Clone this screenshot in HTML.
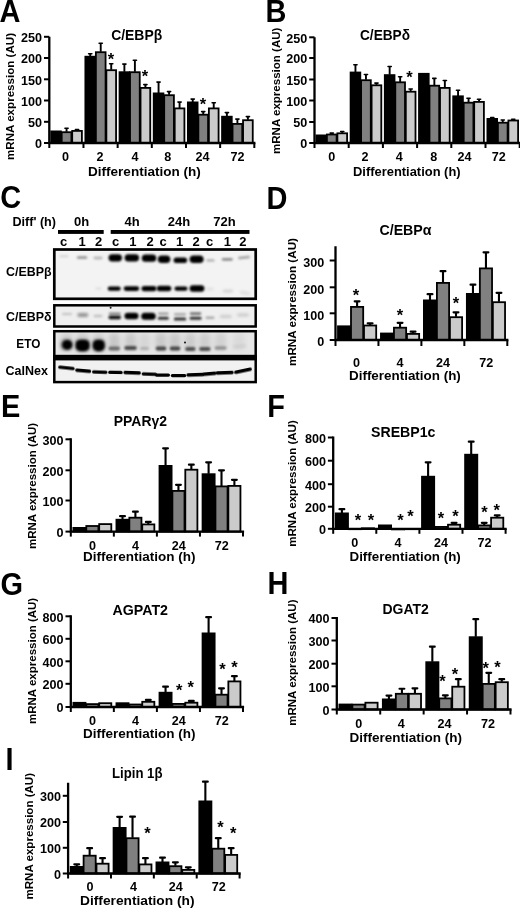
<!DOCTYPE html>
<html lang="en"><head><meta charset="utf-8"><title>Figure</title>
<style>html,body{margin:0;padding:0;background:#fff}svg{display:block}</style></head>
<body>
<svg width="520" height="909" viewBox="0 0 520 909" font-family="Liberation Sans, Arial, sans-serif" font-weight="bold" fill="#000">
<rect width="520" height="909" fill="#fff"/>
<rect x="51.20" y="131.40" width="9.70" height="11.60" fill="#000" stroke="#000" stroke-width="1.8"/>
<path d="M66.55 131.80V128.30" stroke="#000" stroke-width="1.9" fill="none"/>
<path d="M64.95 128.30H68.15" stroke="#000" stroke-width="1.6" stroke-linecap="round" fill="none"/>
<rect x="61.70" y="132.20" width="9.70" height="10.80" fill="#808080" stroke="#000" stroke-width="1.8"/>
<path d="M77.05 130.50V129.60" stroke="#000" stroke-width="1.9" fill="none"/>
<path d="M75.45 129.60H78.65" stroke="#000" stroke-width="1.6" stroke-linecap="round" fill="none"/>
<rect x="72.20" y="130.90" width="9.70" height="12.10" fill="#cbcbcb" stroke="#000" stroke-width="1.8"/>
<path d="M90.22 56.30V53.80" stroke="#000" stroke-width="1.9" fill="none"/>
<path d="M88.62 53.80H91.82" stroke="#000" stroke-width="1.6" stroke-linecap="round" fill="none"/>
<rect x="85.37" y="56.70" width="9.70" height="86.30" fill="#000" stroke="#000" stroke-width="1.8"/>
<path d="M100.72 51.80V43.30" stroke="#000" stroke-width="1.9" fill="none"/>
<path d="M99.12 43.30H102.32" stroke="#000" stroke-width="1.6" stroke-linecap="round" fill="none"/>
<rect x="95.87" y="52.20" width="9.70" height="90.80" fill="#808080" stroke="#000" stroke-width="1.8"/>
<path d="M111.22 69.80V63.80" stroke="#000" stroke-width="1.9" fill="none"/>
<path d="M109.62 63.80H112.82" stroke="#000" stroke-width="1.6" stroke-linecap="round" fill="none"/>
<rect x="106.37" y="70.20" width="9.70" height="72.80" fill="#cbcbcb" stroke="#000" stroke-width="1.8"/>
<path d="M124.39 71.80V64.10" stroke="#000" stroke-width="1.9" fill="none"/>
<path d="M122.79 64.10H125.99" stroke="#000" stroke-width="1.6" stroke-linecap="round" fill="none"/>
<rect x="119.54" y="72.20" width="9.70" height="70.80" fill="#000" stroke="#000" stroke-width="1.8"/>
<path d="M134.89 71.80V60.30" stroke="#000" stroke-width="1.9" fill="none"/>
<path d="M133.29 60.30H136.49" stroke="#000" stroke-width="1.6" stroke-linecap="round" fill="none"/>
<rect x="130.04" y="72.20" width="9.70" height="70.80" fill="#808080" stroke="#000" stroke-width="1.8"/>
<path d="M145.39 87.50V84.60" stroke="#000" stroke-width="1.9" fill="none"/>
<path d="M143.79 84.60H146.99" stroke="#000" stroke-width="1.6" stroke-linecap="round" fill="none"/>
<rect x="140.54" y="87.90" width="9.70" height="55.10" fill="#cbcbcb" stroke="#000" stroke-width="1.8"/>
<path d="M158.56 93.00V82.10" stroke="#000" stroke-width="1.9" fill="none"/>
<path d="M156.96 82.10H160.16" stroke="#000" stroke-width="1.6" stroke-linecap="round" fill="none"/>
<rect x="153.71" y="93.40" width="9.70" height="49.60" fill="#000" stroke="#000" stroke-width="1.8"/>
<path d="M169.06 94.80V91.60" stroke="#000" stroke-width="1.9" fill="none"/>
<path d="M167.46 91.60H170.66" stroke="#000" stroke-width="1.6" stroke-linecap="round" fill="none"/>
<rect x="164.21" y="95.20" width="9.70" height="47.80" fill="#808080" stroke="#000" stroke-width="1.8"/>
<path d="M179.56 108.00V102.10" stroke="#000" stroke-width="1.9" fill="none"/>
<path d="M177.96 102.10H181.16" stroke="#000" stroke-width="1.6" stroke-linecap="round" fill="none"/>
<rect x="174.71" y="108.40" width="9.70" height="34.60" fill="#cbcbcb" stroke="#000" stroke-width="1.8"/>
<path d="M192.73 102.00V99.10" stroke="#000" stroke-width="1.9" fill="none"/>
<path d="M191.13 99.10H194.33" stroke="#000" stroke-width="1.6" stroke-linecap="round" fill="none"/>
<rect x="187.88" y="102.40" width="9.70" height="40.60" fill="#000" stroke="#000" stroke-width="1.8"/>
<path d="M203.23 114.30V111.60" stroke="#000" stroke-width="1.9" fill="none"/>
<path d="M201.63 111.60H204.83" stroke="#000" stroke-width="1.6" stroke-linecap="round" fill="none"/>
<rect x="198.38" y="114.70" width="9.70" height="28.30" fill="#808080" stroke="#000" stroke-width="1.8"/>
<path d="M213.73 108.00V102.80" stroke="#000" stroke-width="1.9" fill="none"/>
<path d="M212.13 102.80H215.33" stroke="#000" stroke-width="1.6" stroke-linecap="round" fill="none"/>
<rect x="208.88" y="108.40" width="9.70" height="34.60" fill="#cbcbcb" stroke="#000" stroke-width="1.8"/>
<path d="M226.90 116.30V112.60" stroke="#000" stroke-width="1.9" fill="none"/>
<path d="M225.30 112.60H228.50" stroke="#000" stroke-width="1.6" stroke-linecap="round" fill="none"/>
<rect x="222.05" y="116.70" width="9.70" height="26.30" fill="#000" stroke="#000" stroke-width="1.8"/>
<path d="M237.40 123.50V119.10" stroke="#000" stroke-width="1.9" fill="none"/>
<path d="M235.80 119.10H239.00" stroke="#000" stroke-width="1.6" stroke-linecap="round" fill="none"/>
<rect x="232.55" y="123.90" width="9.70" height="19.10" fill="#808080" stroke="#000" stroke-width="1.8"/>
<path d="M247.90 119.80V116.60" stroke="#000" stroke-width="1.9" fill="none"/>
<path d="M246.30 116.60H249.50" stroke="#000" stroke-width="1.6" stroke-linecap="round" fill="none"/>
<rect x="243.05" y="120.20" width="9.70" height="22.80" fill="#cbcbcb" stroke="#000" stroke-width="1.8"/>
<path d="M49.30 36.80V144.10M48.20 143.00H255.42" stroke="#000" stroke-width="2.3" fill="none"/>
<path d="M44.00 36.80H49.30" stroke="#000" stroke-width="2"/>
<text x="42.10" y="42.20" font-size="12.6" text-anchor="end">250</text>
<path d="M44.00 58.00H49.30" stroke="#000" stroke-width="2"/>
<text x="42.10" y="63.40" font-size="12.6" text-anchor="end">200</text>
<path d="M44.00 79.30H49.30" stroke="#000" stroke-width="2"/>
<text x="42.10" y="84.70" font-size="12.6" text-anchor="end">150</text>
<path d="M44.00 100.50H49.30" stroke="#000" stroke-width="2"/>
<text x="42.10" y="105.90" font-size="12.6" text-anchor="end">100</text>
<path d="M44.00 121.80H49.30" stroke="#000" stroke-width="2"/>
<text x="42.10" y="127.20" font-size="12.6" text-anchor="end">50</text>
<path d="M44.00 143.00H49.30" stroke="#000" stroke-width="2"/>
<text x="42.10" y="148.40" font-size="12.6" text-anchor="end">0</text>
<path d="M49.30 143.00V148.00" stroke="#000" stroke-width="2"/>
<path d="M83.47 143.00V148.00" stroke="#000" stroke-width="2"/>
<path d="M117.64 143.00V148.00" stroke="#000" stroke-width="2"/>
<path d="M151.81 143.00V148.00" stroke="#000" stroke-width="2"/>
<path d="M185.98 143.00V148.00" stroke="#000" stroke-width="2"/>
<path d="M220.15 143.00V148.00" stroke="#000" stroke-width="2"/>
<path d="M254.32 143.00V148.00" stroke="#000" stroke-width="2"/>
<text x="65.50" y="160.60" font-size="12.6" text-anchor="middle">0</text>
<text x="100.00" y="160.60" font-size="12.6" text-anchor="middle">2</text>
<text x="135.00" y="160.60" font-size="12.6" text-anchor="middle">4</text>
<text x="167.70" y="160.60" font-size="12.6" text-anchor="middle">8</text>
<text x="202.60" y="160.60" font-size="12.6" text-anchor="middle">24</text>
<text x="237.50" y="160.60" font-size="12.6" text-anchor="middle">72</text>
<text x="88.00" y="175.60" font-size="13.4" text-anchor="start" textLength="112.80" lengthAdjust="spacingAndGlyphs">Differentiation (h)</text>
<text transform="translate(14.40 160.00) rotate(-90)" font-size="11.5" textLength="127.00" lengthAdjust="spacingAndGlyphs">mRNA expression (AU)</text>
<text x="111.20" y="39.60" font-size="13.8" text-anchor="start" textLength="51.00" lengthAdjust="spacingAndGlyphs">C/EBPβ</text>
<text transform="translate(-0.50 21.80) scale(0.92 1)" font-size="31.5">A</text>
<text x="111.00" y="64.70" font-size="16.5" text-anchor="middle">*</text>
<text x="145.00" y="81.70" font-size="16.5" text-anchor="middle">*</text>
<text x="203.00" y="109.70" font-size="16.5" text-anchor="middle">*</text>
<rect x="316.40" y="135.40" width="9.70" height="7.60" fill="#000" stroke="#000" stroke-width="1.8"/>
<path d="M331.75 134.10V133.10" stroke="#000" stroke-width="1.9" fill="none"/>
<path d="M330.15 133.10H333.35" stroke="#000" stroke-width="1.6" stroke-linecap="round" fill="none"/>
<rect x="326.90" y="134.50" width="9.70" height="8.50" fill="#808080" stroke="#000" stroke-width="1.8"/>
<path d="M342.25 132.90V131.50" stroke="#000" stroke-width="1.9" fill="none"/>
<path d="M340.65 131.50H343.85" stroke="#000" stroke-width="1.6" stroke-linecap="round" fill="none"/>
<rect x="337.40" y="133.30" width="9.70" height="9.70" fill="#cbcbcb" stroke="#000" stroke-width="1.8"/>
<path d="M355.45 72.10V64.80" stroke="#000" stroke-width="1.9" fill="none"/>
<path d="M353.85 64.80H357.05" stroke="#000" stroke-width="1.6" stroke-linecap="round" fill="none"/>
<rect x="350.60" y="72.50" width="9.70" height="70.50" fill="#000" stroke="#000" stroke-width="1.8"/>
<path d="M365.95 79.80V74.50" stroke="#000" stroke-width="1.9" fill="none"/>
<path d="M364.35 74.50H367.55" stroke="#000" stroke-width="1.6" stroke-linecap="round" fill="none"/>
<rect x="361.10" y="80.20" width="9.70" height="62.80" fill="#808080" stroke="#000" stroke-width="1.8"/>
<path d="M376.45 84.90V83.10" stroke="#000" stroke-width="1.9" fill="none"/>
<path d="M374.85 83.10H378.05" stroke="#000" stroke-width="1.6" stroke-linecap="round" fill="none"/>
<rect x="371.60" y="85.30" width="9.70" height="57.70" fill="#cbcbcb" stroke="#000" stroke-width="1.8"/>
<path d="M389.65 74.70V66.50" stroke="#000" stroke-width="1.9" fill="none"/>
<path d="M388.05 66.50H391.25" stroke="#000" stroke-width="1.6" stroke-linecap="round" fill="none"/>
<rect x="384.80" y="75.10" width="9.70" height="67.90" fill="#000" stroke="#000" stroke-width="1.8"/>
<path d="M400.15 81.90V76.70" stroke="#000" stroke-width="1.9" fill="none"/>
<path d="M398.55 76.70H401.75" stroke="#000" stroke-width="1.6" stroke-linecap="round" fill="none"/>
<rect x="395.30" y="82.30" width="9.70" height="60.70" fill="#808080" stroke="#000" stroke-width="1.8"/>
<path d="M410.65 91.30V89.00" stroke="#000" stroke-width="1.9" fill="none"/>
<path d="M409.05 89.00H412.25" stroke="#000" stroke-width="1.6" stroke-linecap="round" fill="none"/>
<rect x="405.80" y="91.70" width="9.70" height="51.30" fill="#cbcbcb" stroke="#000" stroke-width="1.8"/>
<rect x="419.00" y="73.80" width="9.70" height="69.20" fill="#000" stroke="#000" stroke-width="1.8"/>
<path d="M434.35 85.30V78.40" stroke="#000" stroke-width="1.9" fill="none"/>
<path d="M432.75 78.40H435.95" stroke="#000" stroke-width="1.6" stroke-linecap="round" fill="none"/>
<rect x="429.50" y="85.70" width="9.70" height="57.30" fill="#808080" stroke="#000" stroke-width="1.8"/>
<path d="M444.85 87.50V80.50" stroke="#000" stroke-width="1.9" fill="none"/>
<path d="M443.25 80.50H446.45" stroke="#000" stroke-width="1.6" stroke-linecap="round" fill="none"/>
<rect x="440.00" y="87.90" width="9.70" height="55.10" fill="#cbcbcb" stroke="#000" stroke-width="1.8"/>
<path d="M458.05 95.90V90.30" stroke="#000" stroke-width="1.9" fill="none"/>
<path d="M456.45 90.30H459.65" stroke="#000" stroke-width="1.6" stroke-linecap="round" fill="none"/>
<rect x="453.20" y="96.30" width="9.70" height="46.70" fill="#000" stroke="#000" stroke-width="1.8"/>
<path d="M468.55 102.30V98.30" stroke="#000" stroke-width="1.9" fill="none"/>
<path d="M466.95 98.30H470.15" stroke="#000" stroke-width="1.6" stroke-linecap="round" fill="none"/>
<rect x="463.70" y="102.70" width="9.70" height="40.30" fill="#808080" stroke="#000" stroke-width="1.8"/>
<path d="M479.05 101.50V99.20" stroke="#000" stroke-width="1.9" fill="none"/>
<path d="M477.45 99.20H480.65" stroke="#000" stroke-width="1.6" stroke-linecap="round" fill="none"/>
<rect x="474.20" y="101.90" width="9.70" height="41.10" fill="#cbcbcb" stroke="#000" stroke-width="1.8"/>
<path d="M492.25 118.50V117.50" stroke="#000" stroke-width="1.9" fill="none"/>
<path d="M490.65 117.50H493.85" stroke="#000" stroke-width="1.6" stroke-linecap="round" fill="none"/>
<rect x="487.40" y="118.90" width="9.70" height="24.10" fill="#000" stroke="#000" stroke-width="1.8"/>
<path d="M502.75 122.30V120.00" stroke="#000" stroke-width="1.9" fill="none"/>
<path d="M501.15 120.00H504.35" stroke="#000" stroke-width="1.6" stroke-linecap="round" fill="none"/>
<rect x="497.90" y="122.70" width="9.70" height="20.30" fill="#808080" stroke="#000" stroke-width="1.8"/>
<path d="M513.25 120.10V119.20" stroke="#000" stroke-width="1.9" fill="none"/>
<path d="M511.65 119.20H514.85" stroke="#000" stroke-width="1.6" stroke-linecap="round" fill="none"/>
<rect x="508.40" y="120.50" width="9.70" height="22.50" fill="#cbcbcb" stroke="#000" stroke-width="1.8"/>
<path d="M314.50 37.30V144.10M313.40 143.00H520.80" stroke="#000" stroke-width="2.3" fill="none"/>
<path d="M309.20 37.30H314.50" stroke="#000" stroke-width="2"/>
<text x="307.30" y="42.70" font-size="12.6" text-anchor="end">250</text>
<path d="M309.20 58.00H314.50" stroke="#000" stroke-width="2"/>
<text x="307.30" y="63.40" font-size="12.6" text-anchor="end">200</text>
<path d="M309.20 79.50H314.50" stroke="#000" stroke-width="2"/>
<text x="307.30" y="84.90" font-size="12.6" text-anchor="end">150</text>
<path d="M309.20 100.50H314.50" stroke="#000" stroke-width="2"/>
<text x="307.30" y="105.90" font-size="12.6" text-anchor="end">100</text>
<path d="M309.20 122.00H314.50" stroke="#000" stroke-width="2"/>
<text x="307.30" y="127.40" font-size="12.6" text-anchor="end">50</text>
<path d="M309.20 143.00H314.50" stroke="#000" stroke-width="2"/>
<text x="307.30" y="148.40" font-size="12.6" text-anchor="end">0</text>
<path d="M314.50 143.00V148.00" stroke="#000" stroke-width="2"/>
<path d="M348.70 143.00V148.00" stroke="#000" stroke-width="2"/>
<path d="M382.90 143.00V148.00" stroke="#000" stroke-width="2"/>
<path d="M417.10 143.00V148.00" stroke="#000" stroke-width="2"/>
<path d="M451.30 143.00V148.00" stroke="#000" stroke-width="2"/>
<path d="M485.50 143.00V148.00" stroke="#000" stroke-width="2"/>
<path d="M519.70 143.00V148.00" stroke="#000" stroke-width="2"/>
<text x="331.80" y="160.60" font-size="12.6" text-anchor="middle">0</text>
<text x="365.00" y="160.60" font-size="12.6" text-anchor="middle">2</text>
<text x="399.30" y="160.60" font-size="12.6" text-anchor="middle">4</text>
<text x="433.80" y="160.60" font-size="12.6" text-anchor="middle">8</text>
<text x="464.50" y="160.60" font-size="12.6" text-anchor="middle">24</text>
<text x="498.80" y="160.60" font-size="12.6" text-anchor="middle">72</text>
<text x="353.00" y="175.60" font-size="13.4" text-anchor="start" textLength="107.60" lengthAdjust="spacingAndGlyphs">Differentiation (h)</text>
<text transform="translate(280.40 154.00) rotate(-90)" font-size="11.5" textLength="126.40" lengthAdjust="spacingAndGlyphs">mRNA expression (AU)</text>
<text x="360.00" y="39.60" font-size="13.8" text-anchor="start" textLength="50.00" lengthAdjust="spacingAndGlyphs">C/EBPδ</text>
<text transform="translate(265.40 21.60) scale(0.92 1)" font-size="31.5">B</text>
<text x="409.50" y="82.70" font-size="16.5" text-anchor="middle">*</text>
<rect x="338.00" y="326.30" width="12.20" height="13.70" fill="#000" stroke="#000" stroke-width="1.8"/>
<path d="M357.10 306.50V301.35" stroke="#000" stroke-width="2.1" fill="none"/>
<path d="M354.70 301.35H359.50" stroke="#000" stroke-width="2.2" stroke-linecap="round" fill="none"/>
<rect x="351.00" y="306.90" width="12.20" height="33.10" fill="#808080" stroke="#000" stroke-width="1.8"/>
<path d="M370.10 325.10V323.35" stroke="#000" stroke-width="2.1" fill="none"/>
<path d="M367.70 323.35H372.50" stroke="#000" stroke-width="2.2" stroke-linecap="round" fill="none"/>
<rect x="364.00" y="325.50" width="12.20" height="14.50" fill="#cbcbcb" stroke="#000" stroke-width="1.8"/>
<rect x="380.95" y="333.50" width="12.20" height="6.50" fill="#000" stroke="#000" stroke-width="1.8"/>
<path d="M400.05 327.30V322.85" stroke="#000" stroke-width="2.1" fill="none"/>
<path d="M397.65 322.85H402.45" stroke="#000" stroke-width="2.2" stroke-linecap="round" fill="none"/>
<rect x="393.95" y="327.70" width="12.20" height="12.30" fill="#808080" stroke="#000" stroke-width="1.8"/>
<path d="M413.05 333.50V331.65" stroke="#000" stroke-width="2.1" fill="none"/>
<path d="M410.65 331.65H415.45" stroke="#000" stroke-width="2.2" stroke-linecap="round" fill="none"/>
<rect x="406.95" y="333.90" width="12.20" height="6.10" fill="#cbcbcb" stroke="#000" stroke-width="1.8"/>
<path d="M430.00 300.00V294.15" stroke="#000" stroke-width="2.1" fill="none"/>
<path d="M427.60 294.15H432.40" stroke="#000" stroke-width="2.2" stroke-linecap="round" fill="none"/>
<rect x="423.90" y="300.40" width="12.20" height="39.60" fill="#000" stroke="#000" stroke-width="1.8"/>
<path d="M443.00 282.50V271.15" stroke="#000" stroke-width="2.1" fill="none"/>
<path d="M440.60 271.15H445.40" stroke="#000" stroke-width="2.2" stroke-linecap="round" fill="none"/>
<rect x="436.90" y="282.90" width="12.20" height="57.10" fill="#808080" stroke="#000" stroke-width="1.8"/>
<path d="M456.00 316.80V312.35" stroke="#000" stroke-width="2.1" fill="none"/>
<path d="M453.60 312.35H458.40" stroke="#000" stroke-width="2.2" stroke-linecap="round" fill="none"/>
<rect x="449.90" y="317.20" width="12.20" height="22.80" fill="#cbcbcb" stroke="#000" stroke-width="1.8"/>
<path d="M472.95 293.50V284.65" stroke="#000" stroke-width="2.1" fill="none"/>
<path d="M470.55 284.65H475.35" stroke="#000" stroke-width="2.2" stroke-linecap="round" fill="none"/>
<rect x="466.85" y="293.90" width="12.20" height="46.10" fill="#000" stroke="#000" stroke-width="1.8"/>
<path d="M485.95 268.00V252.35" stroke="#000" stroke-width="2.1" fill="none"/>
<path d="M483.55 252.35H488.35" stroke="#000" stroke-width="2.2" stroke-linecap="round" fill="none"/>
<rect x="479.85" y="268.40" width="12.20" height="71.60" fill="#808080" stroke="#000" stroke-width="1.8"/>
<path d="M498.95 301.80V292.85" stroke="#000" stroke-width="2.1" fill="none"/>
<path d="M496.55 292.85H501.35" stroke="#000" stroke-width="2.2" stroke-linecap="round" fill="none"/>
<rect x="492.85" y="302.20" width="12.20" height="37.80" fill="#cbcbcb" stroke="#000" stroke-width="1.8"/>
<path d="M335.50 246.30V341.10M334.40 340.00H508.40" stroke="#000" stroke-width="2.3" fill="none"/>
<path d="M329.70 260.50H335.50" stroke="#000" stroke-width="2"/>
<text x="324.20" y="266.70" font-size="12.6" text-anchor="end">300</text>
<path d="M329.70 287.30H335.50" stroke="#000" stroke-width="2"/>
<text x="324.20" y="293.50" font-size="12.6" text-anchor="end">200</text>
<path d="M329.70 313.30H335.50" stroke="#000" stroke-width="2"/>
<text x="324.20" y="319.50" font-size="12.6" text-anchor="end">100</text>
<path d="M329.70 340.00H335.50" stroke="#000" stroke-width="2"/>
<text x="324.20" y="346.20" font-size="12.6" text-anchor="end">0</text>
<path d="M335.50 340.00V346.00" stroke="#000" stroke-width="2"/>
<path d="M378.45 340.00V346.00" stroke="#000" stroke-width="2"/>
<path d="M421.40 340.00V346.00" stroke="#000" stroke-width="2"/>
<path d="M464.35 340.00V346.00" stroke="#000" stroke-width="2"/>
<path d="M507.30 340.00V346.00" stroke="#000" stroke-width="2"/>
<text x="356.50" y="366.60" font-size="12.6" text-anchor="middle">0</text>
<text x="400.00" y="366.60" font-size="12.6" text-anchor="middle">4</text>
<text x="443.00" y="366.60" font-size="12.6" text-anchor="middle">24</text>
<text x="486.30" y="366.60" font-size="12.6" text-anchor="middle">72</text>
<text x="349.00" y="379.60" font-size="13.4" text-anchor="start" textLength="111.80" lengthAdjust="spacingAndGlyphs">Differentiation (h)</text>
<text transform="translate(295.50 366.00) rotate(-90)" font-size="11.5" textLength="128.00" lengthAdjust="spacingAndGlyphs">mRNA expression (AU)</text>
<text x="379.50" y="235.00" font-size="13.8" text-anchor="start" textLength="52.00" lengthAdjust="spacingAndGlyphs">C/EBPα</text>
<text transform="translate(266.50 208.80) scale(0.92 1)" font-size="31.5">D</text>
<text x="356.00" y="301.20" font-size="16.5" text-anchor="middle">*</text>
<text x="400.00" y="321.20" font-size="16.5" text-anchor="middle">*</text>
<text x="456.00" y="308.70" font-size="16.5" text-anchor="middle">*</text>
<rect x="73.40" y="527.90" width="12.10" height="3.70" fill="#000" stroke="#000" stroke-width="1.8"/>
<rect x="86.30" y="526.00" width="12.10" height="5.60" fill="#808080" stroke="#000" stroke-width="1.8"/>
<rect x="99.20" y="524.10" width="12.10" height="7.50" fill="#cbcbcb" stroke="#000" stroke-width="1.8"/>
<path d="M122.50 519.30V516.15" stroke="#000" stroke-width="2.1" fill="none"/>
<path d="M120.10 516.15H124.90" stroke="#000" stroke-width="2.2" stroke-linecap="round" fill="none"/>
<rect x="116.45" y="519.70" width="12.10" height="11.90" fill="#000" stroke="#000" stroke-width="1.8"/>
<path d="M135.40 517.30V511.65" stroke="#000" stroke-width="2.1" fill="none"/>
<path d="M133.00 511.65H137.80" stroke="#000" stroke-width="2.2" stroke-linecap="round" fill="none"/>
<rect x="129.35" y="517.70" width="12.10" height="13.90" fill="#808080" stroke="#000" stroke-width="1.8"/>
<path d="M148.30 524.00V521.95" stroke="#000" stroke-width="2.1" fill="none"/>
<path d="M145.90 521.95H150.70" stroke="#000" stroke-width="2.2" stroke-linecap="round" fill="none"/>
<rect x="142.25" y="524.40" width="12.10" height="7.20" fill="#cbcbcb" stroke="#000" stroke-width="1.8"/>
<path d="M165.55 465.50V448.35" stroke="#000" stroke-width="2.1" fill="none"/>
<path d="M163.15 448.35H167.95" stroke="#000" stroke-width="2.2" stroke-linecap="round" fill="none"/>
<rect x="159.50" y="465.90" width="12.10" height="65.70" fill="#000" stroke="#000" stroke-width="1.8"/>
<path d="M178.45 490.50V484.85" stroke="#000" stroke-width="2.1" fill="none"/>
<path d="M176.05 484.85H180.85" stroke="#000" stroke-width="2.2" stroke-linecap="round" fill="none"/>
<rect x="172.40" y="490.90" width="12.10" height="40.70" fill="#808080" stroke="#000" stroke-width="1.8"/>
<path d="M191.35 469.30V464.65" stroke="#000" stroke-width="2.1" fill="none"/>
<path d="M188.95 464.65H193.75" stroke="#000" stroke-width="2.2" stroke-linecap="round" fill="none"/>
<rect x="185.30" y="469.70" width="12.10" height="61.90" fill="#cbcbcb" stroke="#000" stroke-width="1.8"/>
<path d="M208.60 473.80V462.35" stroke="#000" stroke-width="2.1" fill="none"/>
<path d="M206.20 462.35H211.00" stroke="#000" stroke-width="2.2" stroke-linecap="round" fill="none"/>
<rect x="202.55" y="474.20" width="12.10" height="57.40" fill="#000" stroke="#000" stroke-width="1.8"/>
<path d="M221.50 486.00V470.35" stroke="#000" stroke-width="2.1" fill="none"/>
<path d="M219.10 470.35H223.90" stroke="#000" stroke-width="2.2" stroke-linecap="round" fill="none"/>
<rect x="215.45" y="486.40" width="12.10" height="45.20" fill="#808080" stroke="#000" stroke-width="1.8"/>
<path d="M234.40 485.50V479.85" stroke="#000" stroke-width="2.1" fill="none"/>
<path d="M232.00 479.85H236.80" stroke="#000" stroke-width="2.2" stroke-linecap="round" fill="none"/>
<rect x="228.35" y="485.90" width="12.10" height="45.70" fill="#cbcbcb" stroke="#000" stroke-width="1.8"/>
<path d="M70.80 438.30V532.70M69.70 531.60H244.10" stroke="#000" stroke-width="2.3" fill="none"/>
<path d="M65.50 439.30H70.80" stroke="#000" stroke-width="2"/>
<text x="63.60" y="444.70" font-size="12.6" text-anchor="end">300</text>
<path d="M65.50 470.30H70.80" stroke="#000" stroke-width="2"/>
<text x="63.60" y="475.70" font-size="12.6" text-anchor="end">200</text>
<path d="M65.50 500.50H70.80" stroke="#000" stroke-width="2"/>
<text x="63.60" y="505.90" font-size="12.6" text-anchor="end">100</text>
<path d="M65.50 531.60H70.80" stroke="#000" stroke-width="2"/>
<text x="63.60" y="537.00" font-size="12.6" text-anchor="end">0</text>
<path d="M70.80 531.60V536.60" stroke="#000" stroke-width="2"/>
<path d="M113.85 531.60V536.60" stroke="#000" stroke-width="2"/>
<path d="M156.90 531.60V536.60" stroke="#000" stroke-width="2"/>
<path d="M199.95 531.60V536.60" stroke="#000" stroke-width="2"/>
<path d="M243.00 531.60V536.60" stroke="#000" stroke-width="2"/>
<text x="92.50" y="549.60" font-size="12.6" text-anchor="middle">0</text>
<text x="135.50" y="549.60" font-size="12.6" text-anchor="middle">4</text>
<text x="178.80" y="549.60" font-size="12.6" text-anchor="middle">24</text>
<text x="221.80" y="549.60" font-size="12.6" text-anchor="middle">72</text>
<text x="83.00" y="560.60" font-size="13.4" text-anchor="start" textLength="112.50" lengthAdjust="spacingAndGlyphs">Differentiation (h)</text>
<text transform="translate(35.80 549.00) rotate(-90)" font-size="11.5" textLength="126.20" lengthAdjust="spacingAndGlyphs">mRNA expression (AU)</text>
<text x="113.80" y="425.80" font-size="13.8" text-anchor="start" textLength="53.20" lengthAdjust="spacingAndGlyphs">PPARγ2</text>
<text transform="translate(0.90 417.20) scale(0.92 1)" font-size="31.5">E</text>
<path d="M341.90 513.00V509.15" stroke="#000" stroke-width="2.1" fill="none"/>
<path d="M339.50 509.15H344.30" stroke="#000" stroke-width="2.2" stroke-linecap="round" fill="none"/>
<rect x="335.80" y="513.40" width="12.20" height="15.40" fill="#000" stroke="#000" stroke-width="1.8"/>
<rect x="348.80" y="528.90" width="12.20" height="0.30" fill="#808080" stroke="#000" stroke-width="1.8"/>
<rect x="361.80" y="528.30" width="12.20" height="0.50" fill="#cbcbcb" stroke="#000" stroke-width="1.8"/>
<rect x="378.90" y="525.40" width="12.20" height="3.40" fill="#000" stroke="#000" stroke-width="1.8"/>
<rect x="391.90" y="529.10" width="12.20" height="0.30" fill="#808080" stroke="#000" stroke-width="1.8"/>
<rect x="404.90" y="528.90" width="12.20" height="0.30" fill="#cbcbcb" stroke="#000" stroke-width="1.8"/>
<path d="M428.10 476.30V462.35" stroke="#000" stroke-width="2.1" fill="none"/>
<path d="M425.70 462.35H430.50" stroke="#000" stroke-width="2.2" stroke-linecap="round" fill="none"/>
<rect x="422.00" y="476.70" width="12.20" height="52.10" fill="#000" stroke="#000" stroke-width="1.8"/>
<rect x="435.00" y="526.90" width="12.20" height="1.90" fill="#808080" stroke="#000" stroke-width="1.8"/>
<path d="M454.10 524.30V522.85" stroke="#000" stroke-width="2.1" fill="none"/>
<path d="M451.70 522.85H456.50" stroke="#000" stroke-width="2.2" stroke-linecap="round" fill="none"/>
<rect x="448.00" y="524.70" width="12.20" height="4.10" fill="#cbcbcb" stroke="#000" stroke-width="1.8"/>
<path d="M471.20 454.30V441.65" stroke="#000" stroke-width="2.1" fill="none"/>
<path d="M468.80 441.65H473.60" stroke="#000" stroke-width="2.2" stroke-linecap="round" fill="none"/>
<rect x="465.10" y="454.70" width="12.20" height="74.10" fill="#000" stroke="#000" stroke-width="1.8"/>
<path d="M484.20 525.00V522.85" stroke="#000" stroke-width="2.1" fill="none"/>
<path d="M481.80 522.85H486.60" stroke="#000" stroke-width="2.2" stroke-linecap="round" fill="none"/>
<rect x="478.10" y="525.40" width="12.20" height="3.40" fill="#808080" stroke="#000" stroke-width="1.8"/>
<path d="M497.20 517.30V515.35" stroke="#000" stroke-width="2.1" fill="none"/>
<path d="M494.80 515.35H499.60" stroke="#000" stroke-width="2.2" stroke-linecap="round" fill="none"/>
<rect x="491.10" y="517.70" width="12.20" height="11.10" fill="#cbcbcb" stroke="#000" stroke-width="1.8"/>
<path d="M333.20 436.50V529.90M332.10 528.80H506.70" stroke="#000" stroke-width="2.3" fill="none"/>
<path d="M327.90 437.50H333.20" stroke="#000" stroke-width="2"/>
<text x="326.00" y="442.90" font-size="12.6" text-anchor="end">800</text>
<path d="M327.90 460.70H333.20" stroke="#000" stroke-width="2"/>
<text x="326.00" y="466.10" font-size="12.6" text-anchor="end">600</text>
<path d="M327.90 484.20H333.20" stroke="#000" stroke-width="2"/>
<text x="326.00" y="489.60" font-size="12.6" text-anchor="end">400</text>
<path d="M327.90 506.70H333.20" stroke="#000" stroke-width="2"/>
<text x="326.00" y="512.10" font-size="12.6" text-anchor="end">200</text>
<path d="M327.90 528.80H333.20" stroke="#000" stroke-width="2"/>
<text x="326.00" y="534.20" font-size="12.6" text-anchor="end">0</text>
<path d="M333.20 528.80V533.80" stroke="#000" stroke-width="2"/>
<path d="M376.30 528.80V533.80" stroke="#000" stroke-width="2"/>
<path d="M419.40 528.80V533.80" stroke="#000" stroke-width="2"/>
<path d="M462.50 528.80V533.80" stroke="#000" stroke-width="2"/>
<path d="M505.60 528.80V533.80" stroke="#000" stroke-width="2"/>
<text x="354.70" y="546.60" font-size="12.6" text-anchor="middle">0</text>
<text x="398.00" y="546.60" font-size="12.6" text-anchor="middle">4</text>
<text x="441.00" y="546.60" font-size="12.6" text-anchor="middle">24</text>
<text x="484.50" y="546.60" font-size="12.6" text-anchor="middle">72</text>
<text x="349.50" y="560.60" font-size="13.4" text-anchor="start" textLength="111.30" lengthAdjust="spacingAndGlyphs">Differentiation (h)</text>
<text transform="translate(296.00 546.80) rotate(-90)" font-size="11.5" textLength="126.60" lengthAdjust="spacingAndGlyphs">mRNA expression (AU)</text>
<text x="371.00" y="437.00" font-size="13.8" text-anchor="start" textLength="64.50" lengthAdjust="spacingAndGlyphs">SREBP1c</text>
<text transform="translate(267.30 417.30) scale(0.92 1)" font-size="31.5">F</text>
<text x="358.00" y="526.20" font-size="16.5" text-anchor="middle">*</text>
<text x="371.00" y="526.20" font-size="16.5" text-anchor="middle">*</text>
<text x="400.50" y="526.20" font-size="16.5" text-anchor="middle">*</text>
<text x="410.50" y="521.70" font-size="16.5" text-anchor="middle">*</text>
<text x="441.00" y="524.20" font-size="16.5" text-anchor="middle">*</text>
<text x="455.50" y="521.70" font-size="16.5" text-anchor="middle">*</text>
<text x="484.50" y="518.20" font-size="16.5" text-anchor="middle">*</text>
<text x="496.80" y="515.70" font-size="16.5" text-anchor="middle">*</text>
<rect x="73.40" y="702.80" width="12.10" height="4.20" fill="#000" stroke="#000" stroke-width="1.8"/>
<rect x="86.30" y="704.10" width="12.10" height="2.90" fill="#808080" stroke="#000" stroke-width="1.8"/>
<rect x="99.20" y="703.20" width="12.10" height="3.80" fill="#cbcbcb" stroke="#000" stroke-width="1.8"/>
<rect x="116.45" y="703.20" width="12.10" height="3.80" fill="#000" stroke="#000" stroke-width="1.8"/>
<rect x="129.35" y="704.50" width="12.10" height="2.50" fill="#808080" stroke="#000" stroke-width="1.8"/>
<path d="M148.30 701.40V699.95" stroke="#000" stroke-width="2.1" fill="none"/>
<path d="M145.90 699.95H150.70" stroke="#000" stroke-width="2.2" stroke-linecap="round" fill="none"/>
<rect x="142.25" y="701.80" width="12.10" height="5.20" fill="#cbcbcb" stroke="#000" stroke-width="1.8"/>
<path d="M165.55 692.30V686.65" stroke="#000" stroke-width="2.1" fill="none"/>
<path d="M163.15 686.65H167.95" stroke="#000" stroke-width="2.2" stroke-linecap="round" fill="none"/>
<rect x="159.50" y="692.70" width="12.10" height="14.30" fill="#000" stroke="#000" stroke-width="1.8"/>
<rect x="172.40" y="703.90" width="12.10" height="3.10" fill="#808080" stroke="#000" stroke-width="1.8"/>
<path d="M191.35 702.30V700.95" stroke="#000" stroke-width="2.1" fill="none"/>
<path d="M188.95 700.95H193.75" stroke="#000" stroke-width="2.2" stroke-linecap="round" fill="none"/>
<rect x="185.30" y="702.70" width="12.10" height="4.30" fill="#cbcbcb" stroke="#000" stroke-width="1.8"/>
<path d="M208.60 633.00V617.15" stroke="#000" stroke-width="2.1" fill="none"/>
<path d="M206.20 617.15H211.00" stroke="#000" stroke-width="2.2" stroke-linecap="round" fill="none"/>
<rect x="202.55" y="633.40" width="12.10" height="73.60" fill="#000" stroke="#000" stroke-width="1.8"/>
<path d="M221.50 694.30V688.35" stroke="#000" stroke-width="2.1" fill="none"/>
<path d="M219.10 688.35H223.90" stroke="#000" stroke-width="2.2" stroke-linecap="round" fill="none"/>
<rect x="215.45" y="694.70" width="12.10" height="12.30" fill="#808080" stroke="#000" stroke-width="1.8"/>
<path d="M234.40 681.00V676.15" stroke="#000" stroke-width="2.1" fill="none"/>
<path d="M232.00 676.15H236.80" stroke="#000" stroke-width="2.2" stroke-linecap="round" fill="none"/>
<rect x="228.35" y="681.40" width="12.10" height="25.60" fill="#cbcbcb" stroke="#000" stroke-width="1.8"/>
<path d="M70.80 615.30V708.10M69.70 707.00H244.10" stroke="#000" stroke-width="2.3" fill="none"/>
<path d="M65.50 616.30H70.80" stroke="#000" stroke-width="2"/>
<text x="63.60" y="621.70" font-size="12.6" text-anchor="end">800</text>
<path d="M65.50 638.80H70.80" stroke="#000" stroke-width="2"/>
<text x="63.60" y="644.20" font-size="12.6" text-anchor="end">600</text>
<path d="M65.50 661.30H70.80" stroke="#000" stroke-width="2"/>
<text x="63.60" y="666.70" font-size="12.6" text-anchor="end">400</text>
<path d="M65.50 683.80H70.80" stroke="#000" stroke-width="2"/>
<text x="63.60" y="689.20" font-size="12.6" text-anchor="end">200</text>
<path d="M65.50 707.00H70.80" stroke="#000" stroke-width="2"/>
<text x="63.60" y="712.40" font-size="12.6" text-anchor="end">0</text>
<path d="M70.80 707.00V712.00" stroke="#000" stroke-width="2"/>
<path d="M113.85 707.00V712.00" stroke="#000" stroke-width="2"/>
<path d="M156.90 707.00V712.00" stroke="#000" stroke-width="2"/>
<path d="M199.95 707.00V712.00" stroke="#000" stroke-width="2"/>
<path d="M243.00 707.00V712.00" stroke="#000" stroke-width="2"/>
<text x="92.50" y="724.90" font-size="12.6" text-anchor="middle">0</text>
<text x="135.50" y="724.90" font-size="12.6" text-anchor="middle">4</text>
<text x="178.80" y="724.90" font-size="12.6" text-anchor="middle">24</text>
<text x="221.80" y="724.90" font-size="12.6" text-anchor="middle">72</text>
<text x="83.00" y="738.10" font-size="13.4" text-anchor="start" textLength="112.50" lengthAdjust="spacingAndGlyphs">Differentiation (h)</text>
<text transform="translate(35.80 724.00) rotate(-90)" font-size="11.5" textLength="126.20" lengthAdjust="spacingAndGlyphs">mRNA expression (AU)</text>
<text x="112.50" y="614.50" font-size="13.8" text-anchor="start" textLength="55.50" lengthAdjust="spacingAndGlyphs">AGPAT2</text>
<text transform="translate(0.60 595.00) scale(0.92 1)" font-size="31.5">G</text>
<text x="179.30" y="696.20" font-size="16.5" text-anchor="middle">*</text>
<text x="190.80" y="693.20" font-size="16.5" text-anchor="middle">*</text>
<text x="222.50" y="674.70" font-size="16.5" text-anchor="middle">*</text>
<text x="234.50" y="672.50" font-size="16.5" text-anchor="middle">*</text>
<rect x="339.40" y="704.50" width="12.20" height="5.00" fill="#000" stroke="#000" stroke-width="1.8"/>
<rect x="352.40" y="704.60" width="12.20" height="4.90" fill="#808080" stroke="#000" stroke-width="1.8"/>
<rect x="365.40" y="702.70" width="12.20" height="6.80" fill="#cbcbcb" stroke="#000" stroke-width="1.8"/>
<path d="M388.92 699.00V695.55" stroke="#000" stroke-width="2.1" fill="none"/>
<path d="M386.52 695.55H391.32" stroke="#000" stroke-width="2.2" stroke-linecap="round" fill="none"/>
<rect x="382.82" y="699.40" width="12.20" height="10.10" fill="#000" stroke="#000" stroke-width="1.8"/>
<path d="M401.92 693.40V688.75" stroke="#000" stroke-width="2.1" fill="none"/>
<path d="M399.52 688.75H404.32" stroke="#000" stroke-width="2.2" stroke-linecap="round" fill="none"/>
<rect x="395.82" y="693.80" width="12.20" height="15.70" fill="#808080" stroke="#000" stroke-width="1.8"/>
<path d="M414.92 693.40V688.35" stroke="#000" stroke-width="2.1" fill="none"/>
<path d="M412.52 688.35H417.32" stroke="#000" stroke-width="2.2" stroke-linecap="round" fill="none"/>
<rect x="408.82" y="693.80" width="12.20" height="15.70" fill="#cbcbcb" stroke="#000" stroke-width="1.8"/>
<path d="M432.34 661.80V646.65" stroke="#000" stroke-width="2.1" fill="none"/>
<path d="M429.94 646.65H434.74" stroke="#000" stroke-width="2.2" stroke-linecap="round" fill="none"/>
<rect x="426.24" y="662.20" width="12.20" height="47.30" fill="#000" stroke="#000" stroke-width="1.8"/>
<path d="M445.34 698.00V695.35" stroke="#000" stroke-width="2.1" fill="none"/>
<path d="M442.94 695.35H447.74" stroke="#000" stroke-width="2.2" stroke-linecap="round" fill="none"/>
<rect x="439.24" y="698.40" width="12.20" height="11.10" fill="#808080" stroke="#000" stroke-width="1.8"/>
<path d="M458.34 686.30V679.15" stroke="#000" stroke-width="2.1" fill="none"/>
<path d="M455.94 679.15H460.74" stroke="#000" stroke-width="2.2" stroke-linecap="round" fill="none"/>
<rect x="452.24" y="686.70" width="12.20" height="22.80" fill="#cbcbcb" stroke="#000" stroke-width="1.8"/>
<path d="M475.76 636.80V619.15" stroke="#000" stroke-width="2.1" fill="none"/>
<path d="M473.36 619.15H478.16" stroke="#000" stroke-width="2.2" stroke-linecap="round" fill="none"/>
<rect x="469.66" y="637.20" width="12.20" height="72.30" fill="#000" stroke="#000" stroke-width="1.8"/>
<path d="M488.76 683.50V672.85" stroke="#000" stroke-width="2.1" fill="none"/>
<path d="M486.36 672.85H491.16" stroke="#000" stroke-width="2.2" stroke-linecap="round" fill="none"/>
<rect x="482.66" y="683.90" width="12.20" height="25.60" fill="#808080" stroke="#000" stroke-width="1.8"/>
<path d="M501.76 681.80V679.15" stroke="#000" stroke-width="2.1" fill="none"/>
<path d="M499.36 679.15H504.16" stroke="#000" stroke-width="2.2" stroke-linecap="round" fill="none"/>
<rect x="495.66" y="682.20" width="12.20" height="27.30" fill="#cbcbcb" stroke="#000" stroke-width="1.8"/>
<path d="M336.80 617.00V710.60M335.70 709.50H511.58" stroke="#000" stroke-width="2.3" fill="none"/>
<path d="M331.50 618.00H336.80" stroke="#000" stroke-width="2"/>
<text x="329.60" y="623.40" font-size="12.6" text-anchor="end">400</text>
<path d="M331.50 640.50H336.80" stroke="#000" stroke-width="2"/>
<text x="329.60" y="645.90" font-size="12.6" text-anchor="end">300</text>
<path d="M331.50 663.70H336.80" stroke="#000" stroke-width="2"/>
<text x="329.60" y="669.10" font-size="12.6" text-anchor="end">200</text>
<path d="M331.50 686.30H336.80" stroke="#000" stroke-width="2"/>
<text x="329.60" y="691.70" font-size="12.6" text-anchor="end">100</text>
<path d="M331.50 709.50H336.80" stroke="#000" stroke-width="2"/>
<text x="329.60" y="714.90" font-size="12.6" text-anchor="end">0</text>
<path d="M336.80 709.50V714.50" stroke="#000" stroke-width="2"/>
<path d="M380.22 709.50V714.50" stroke="#000" stroke-width="2"/>
<path d="M423.64 709.50V714.50" stroke="#000" stroke-width="2"/>
<path d="M467.06 709.50V714.50" stroke="#000" stroke-width="2"/>
<path d="M510.48 709.50V714.50" stroke="#000" stroke-width="2"/>
<text x="358.80" y="727.60" font-size="12.6" text-anchor="middle">0</text>
<text x="401.30" y="727.60" font-size="12.6" text-anchor="middle">4</text>
<text x="444.50" y="727.60" font-size="12.6" text-anchor="middle">24</text>
<text x="488.00" y="727.60" font-size="12.6" text-anchor="middle">72</text>
<text x="349.50" y="741.60" font-size="13.4" text-anchor="start" textLength="112.50" lengthAdjust="spacingAndGlyphs">Differentiation (h)</text>
<text transform="translate(296.00 725.80) rotate(-90)" font-size="11.5" textLength="126.30" lengthAdjust="spacingAndGlyphs">mRNA expression (AU)</text>
<text x="382.50" y="613.80" font-size="13.8" text-anchor="start" textLength="46.30" lengthAdjust="spacingAndGlyphs">DGAT2</text>
<text transform="translate(267.60 594.00) scale(0.92 1)" font-size="31.5">H</text>
<text x="442.50" y="686.70" font-size="16.5" text-anchor="middle">*</text>
<text x="455.00" y="680.00" font-size="16.5" text-anchor="middle">*</text>
<text x="485.80" y="674.20" font-size="16.5" text-anchor="middle">*</text>
<text x="497.50" y="672.50" font-size="16.5" text-anchor="middle">*</text>
<path d="M76.75 866.50V864.35" stroke="#000" stroke-width="2.1" fill="none"/>
<path d="M74.35 864.35H79.15" stroke="#000" stroke-width="2.2" stroke-linecap="round" fill="none"/>
<rect x="70.70" y="866.90" width="12.10" height="6.60" fill="#000" stroke="#000" stroke-width="1.8"/>
<path d="M89.65 855.30V848.15" stroke="#000" stroke-width="2.1" fill="none"/>
<path d="M87.25 848.15H92.05" stroke="#000" stroke-width="2.2" stroke-linecap="round" fill="none"/>
<rect x="83.60" y="855.70" width="12.10" height="17.80" fill="#808080" stroke="#000" stroke-width="1.8"/>
<path d="M102.55 863.30V858.15" stroke="#000" stroke-width="2.1" fill="none"/>
<path d="M100.15 858.15H104.95" stroke="#000" stroke-width="2.2" stroke-linecap="round" fill="none"/>
<rect x="96.50" y="863.70" width="12.10" height="9.80" fill="#cbcbcb" stroke="#000" stroke-width="1.8"/>
<path d="M119.62 827.50V816.85" stroke="#000" stroke-width="2.1" fill="none"/>
<path d="M117.22 816.85H122.02" stroke="#000" stroke-width="2.2" stroke-linecap="round" fill="none"/>
<rect x="113.57" y="827.90" width="12.10" height="45.60" fill="#000" stroke="#000" stroke-width="1.8"/>
<path d="M132.52 837.80V816.65" stroke="#000" stroke-width="2.1" fill="none"/>
<path d="M130.12 816.65H134.92" stroke="#000" stroke-width="2.2" stroke-linecap="round" fill="none"/>
<rect x="126.47" y="838.20" width="12.10" height="35.30" fill="#808080" stroke="#000" stroke-width="1.8"/>
<path d="M145.42 864.00V858.15" stroke="#000" stroke-width="2.1" fill="none"/>
<path d="M143.02 858.15H147.82" stroke="#000" stroke-width="2.2" stroke-linecap="round" fill="none"/>
<rect x="139.37" y="864.40" width="12.10" height="9.10" fill="#cbcbcb" stroke="#000" stroke-width="1.8"/>
<path d="M162.49 862.00V857.65" stroke="#000" stroke-width="2.1" fill="none"/>
<path d="M160.09 857.65H164.89" stroke="#000" stroke-width="2.2" stroke-linecap="round" fill="none"/>
<rect x="156.44" y="862.40" width="12.10" height="11.10" fill="#000" stroke="#000" stroke-width="1.8"/>
<path d="M175.39 865.80V862.35" stroke="#000" stroke-width="2.1" fill="none"/>
<path d="M172.99 862.35H177.79" stroke="#000" stroke-width="2.2" stroke-linecap="round" fill="none"/>
<rect x="169.34" y="866.20" width="12.10" height="7.30" fill="#808080" stroke="#000" stroke-width="1.8"/>
<path d="M188.29 869.50V867.35" stroke="#000" stroke-width="2.1" fill="none"/>
<path d="M185.89 867.35H190.69" stroke="#000" stroke-width="2.2" stroke-linecap="round" fill="none"/>
<rect x="182.24" y="869.90" width="12.10" height="3.60" fill="#cbcbcb" stroke="#000" stroke-width="1.8"/>
<path d="M205.36 801.00V781.65" stroke="#000" stroke-width="2.1" fill="none"/>
<path d="M202.96 781.65H207.76" stroke="#000" stroke-width="2.2" stroke-linecap="round" fill="none"/>
<rect x="199.31" y="801.40" width="12.10" height="72.10" fill="#000" stroke="#000" stroke-width="1.8"/>
<path d="M218.26 848.30V838.15" stroke="#000" stroke-width="2.1" fill="none"/>
<path d="M215.86 838.15H220.66" stroke="#000" stroke-width="2.2" stroke-linecap="round" fill="none"/>
<rect x="212.21" y="848.70" width="12.10" height="24.80" fill="#808080" stroke="#000" stroke-width="1.8"/>
<path d="M231.16 854.50V848.15" stroke="#000" stroke-width="2.1" fill="none"/>
<path d="M228.76 848.15H233.56" stroke="#000" stroke-width="2.2" stroke-linecap="round" fill="none"/>
<rect x="225.11" y="854.90" width="12.10" height="18.60" fill="#cbcbcb" stroke="#000" stroke-width="1.8"/>
<path d="M68.10 782.70V874.60M67.00 873.50H240.68" stroke="#000" stroke-width="2.3" fill="none"/>
<path d="M62.80 795.80H68.10" stroke="#000" stroke-width="2"/>
<text x="60.90" y="801.20" font-size="12.6" text-anchor="end">300</text>
<path d="M62.80 822.00H68.10" stroke="#000" stroke-width="2"/>
<text x="60.90" y="827.40" font-size="12.6" text-anchor="end">200</text>
<path d="M62.80 847.80H68.10" stroke="#000" stroke-width="2"/>
<text x="60.90" y="853.20" font-size="12.6" text-anchor="end">100</text>
<path d="M62.80 873.50H68.10" stroke="#000" stroke-width="2"/>
<text x="60.90" y="878.90" font-size="12.6" text-anchor="end">0</text>
<path d="M68.10 873.50V878.50" stroke="#000" stroke-width="2"/>
<path d="M110.97 873.50V878.50" stroke="#000" stroke-width="2"/>
<path d="M153.84 873.50V878.50" stroke="#000" stroke-width="2"/>
<path d="M196.71 873.50V878.50" stroke="#000" stroke-width="2"/>
<path d="M239.58 873.50V878.50" stroke="#000" stroke-width="2"/>
<text x="90.00" y="890.90" font-size="12.6" text-anchor="middle">0</text>
<text x="133.50" y="890.90" font-size="12.6" text-anchor="middle">4</text>
<text x="175.80" y="890.90" font-size="12.6" text-anchor="middle">24</text>
<text x="218.80" y="890.90" font-size="12.6" text-anchor="middle">72</text>
<text x="80.00" y="905.40" font-size="13.4" text-anchor="start" textLength="114.50" lengthAdjust="spacingAndGlyphs">Differentiation (h)</text>
<text transform="translate(32.70 899.50) rotate(-90)" font-size="11.5" textLength="126.50" lengthAdjust="spacingAndGlyphs">mRNA expression (AU)</text>
<text x="112.00" y="777.60" font-size="13.8" text-anchor="start" textLength="50.50" lengthAdjust="spacingAndGlyphs">Lipin 1β</text>
<text transform="translate(5.60 769.50) scale(0.92 1)" font-size="31.5">I</text>
<text x="147.50" y="838.70" font-size="16.5" text-anchor="middle">*</text>
<text x="220.50" y="833.20" font-size="16.5" text-anchor="middle">*</text>
<text x="233.30" y="839.00" font-size="16.5" text-anchor="middle">*</text>
<defs><filter id="b0" x="-30%" y="-80%" width="160%" height="260%"><feGaussianBlur stdDeviation="0.65"/></filter><filter id="b1" x="-30%" y="-80%" width="160%" height="260%"><feGaussianBlur stdDeviation="1.0"/></filter><filter id="b2" x="-30%" y="-80%" width="160%" height="260%"><feGaussianBlur stdDeviation="1.6"/></filter><filter id="b3" x="-30%" y="-80%" width="160%" height="260%"><feGaussianBlur stdDeviation="2.4"/></filter><clipPath id="c1"><rect x="54" y="249" width="201" height="50"/></clipPath><clipPath id="c2"><rect x="54" y="305" width="201" height="22"/></clipPath><clipPath id="c3"><rect x="54" y="331" width="201" height="26"/></clipPath><clipPath id="c4"><rect x="54" y="359" width="201" height="23"/></clipPath></defs>
<text transform="translate(0.20 208.00) scale(0.92 1)" font-size="31.5">C</text>
<text x="12.50" y="226.00" font-size="13" text-anchor="start" textLength="43.50" lengthAdjust="spacingAndGlyphs">Diff' (h)</text>
<text x="81.70" y="226.00" font-size="13" text-anchor="middle">0h</text>
<text x="132.00" y="226.00" font-size="13" text-anchor="middle">4h</text>
<text x="179.00" y="226.00" font-size="13" text-anchor="middle">24h</text>
<text x="224.50" y="226.00" font-size="13" text-anchor="middle">72h</text>
<rect x="58" y="230" width="45.7" height="3.9" fill="#000"/>
<rect x="110.7" y="230" width="138.8" height="3.9" fill="#000"/>
<text x="63.70" y="246.20" font-size="13" text-anchor="middle">c</text>
<text x="82.00" y="246.20" font-size="13" text-anchor="middle">1</text>
<text x="98.50" y="246.20" font-size="13" text-anchor="middle">2</text>
<text x="115.70" y="246.20" font-size="13" text-anchor="middle">c</text>
<text x="132.80" y="246.20" font-size="13" text-anchor="middle">1</text>
<text x="150.00" y="246.20" font-size="13" text-anchor="middle">2</text>
<text x="163.00" y="246.20" font-size="13" text-anchor="middle">c</text>
<text x="179.60" y="246.20" font-size="13" text-anchor="middle">1</text>
<text x="196.00" y="246.20" font-size="13" text-anchor="middle">2</text>
<text x="209.50" y="246.20" font-size="13" text-anchor="middle">c</text>
<text x="227.30" y="246.20" font-size="13" text-anchor="middle">1</text>
<text x="242.90" y="246.20" font-size="13" text-anchor="middle">2</text>
<text x="6.00" y="276.00" font-size="13" text-anchor="start" textLength="45.50" lengthAdjust="spacingAndGlyphs">C/EBPβ</text>
<text x="6.00" y="320.50" font-size="13" text-anchor="start" textLength="45.50" lengthAdjust="spacingAndGlyphs">C/EBPδ</text>
<text x="16.30" y="347.50" font-size="13" text-anchor="start" textLength="24.00" lengthAdjust="spacingAndGlyphs">ETO</text>
<text x="5.50" y="375.00" font-size="13" text-anchor="start" textLength="42.50" lengthAdjust="spacingAndGlyphs">CalNex</text>
<rect x="54" y="249" width="201" height="50" fill="#f3f3f3"/>
<rect x="54" y="305" width="201" height="22" fill="#efefef"/>
<rect x="54" y="331" width="201" height="26" fill="#e6e6e6"/>
<rect x="54" y="359" width="201" height="23" fill="#f1f1f1"/>
<g clip-path="url(#c1)">
<rect x="59.5" y="255.3" width="9.0" height="2.0" rx="1.0" fill="#bbb" opacity="0.6" filter="url(#b1)"/>
<rect x="76.8" y="256.0" width="10.5" height="3.0" rx="1.5" fill="#8a8a8a" opacity="0.8" filter="url(#b1)"/>
<rect x="93.5" y="256.6" width="9.0" height="2.8" rx="1.4" fill="#a0a0a0" opacity="0.7" filter="url(#b1)"/>
<rect x="108.5" y="254.2" width="13.5" height="7.2" rx="3.6" fill="#000" opacity="1.0" filter="url(#b1)"/>
<rect x="124.6" y="254.2" width="14.5" height="7.2" rx="3.6" fill="#000" opacity="1.0" filter="url(#b1)"/>
<rect x="141.8" y="254.6" width="14.5" height="7.2" rx="3.6" fill="#000" opacity="1.0" filter="url(#b1)"/>
<rect x="157.8" y="255.4" width="12.5" height="7.6" rx="3.8" fill="#000" opacity="1.0" filter="url(#b1)"/>
<rect x="173.6" y="257.4" width="13.5" height="5.6" rx="2.8" fill="#000" opacity="1.0" filter="url(#b1)"/>
<rect x="189.6" y="255.4" width="14.0" height="7.6" rx="3.8" fill="#000" opacity="1.0" filter="url(#b1)"/>
<rect x="206.5" y="259.2" width="8.0" height="2.4" rx="1.2" fill="#999" opacity="0.8" filter="url(#b1)"/>
<rect x="221.8" y="257.9" width="11.0" height="2.8" rx="1.4" fill="#7a7a7a" opacity="0.85" filter="url(#b1)"/>
<rect x="238.0" y="256.2" width="12.0" height="2.6" rx="1.3" fill="#8a8a8a" opacity="0.8" filter="url(#b1)" transform="rotate(-6 244.0 257.5)"/>
<rect x="95.5" y="287.5" width="6.0" height="2.0" rx="1.0" fill="#ccc" opacity="0.6" filter="url(#b1)"/>
<rect x="107.7" y="286.4" width="13.0" height="4.4" rx="2.2" fill="#000" opacity="1.0" filter="url(#b1)"/>
<rect x="123.7" y="286.2" width="15.5" height="4.8" rx="2.4" fill="#000" opacity="1.0" filter="url(#b1)"/>
<rect x="141.5" y="285.9" width="15.0" height="5.4" rx="2.7" fill="#000" opacity="1.0" filter="url(#b1)"/>
<rect x="156.8" y="285.7" width="14.5" height="5.6" rx="2.8" fill="#000" opacity="1.0" filter="url(#b1)"/>
<rect x="174.5" y="286.4" width="13.0" height="4.4" rx="2.2" fill="#000" opacity="1.0" filter="url(#b1)"/>
<rect x="189.6" y="285.2" width="14.8" height="6.6" rx="3.3" fill="#000" opacity="1.0" filter="url(#b1)"/>
<rect x="206.5" y="288.0" width="7.0" height="2.0" rx="1.0" fill="#ccc" opacity="0.7" filter="url(#b2)"/>
<rect x="223.0" y="289.8" width="10.0" height="2.4" rx="1.2" fill="#c4c4c4" opacity="0.8" filter="url(#b2)"/>
<rect x="240.0" y="291.8" width="10.0" height="2.4" rx="1.2" fill="#ccc" opacity="0.7" filter="url(#b2)" transform="rotate(12 245.0 293.0)"/>
</g>
<g clip-path="url(#c2)">
<rect x="62.0" y="312.8" width="10.0" height="2.4" rx="1.2" fill="#bdbdbd" opacity="0.8" filter="url(#b1)"/>
<rect x="77.3" y="313.0" width="11.0" height="4.0" rx="2.0" fill="#888" opacity="0.9" filter="url(#b2)"/>
<rect x="93.5" y="314.7" width="9.0" height="2.6" rx="1.3" fill="#b5b5b5" opacity="0.8" filter="url(#b1)"/>
<rect x="108.8" y="312.4" width="12.0" height="2.4" rx="1.2" fill="#777" opacity="0.9" filter="url(#b1)"/>
<rect x="108.5" y="315.6" width="12.5" height="3.6" rx="1.8" fill="#111" opacity="1.0" filter="url(#b1)"/>
<rect x="124.5" y="312.7" width="14.0" height="6.6" rx="3.3" fill="#000" opacity="1.0" filter="url(#b1)"/>
<rect x="141.2" y="312.8" width="14.5" height="7.0" rx="3.5" fill="#000" opacity="1.0" filter="url(#b1)"/>
<rect x="158.1" y="312.4" width="10.5" height="2.4" rx="1.2" fill="#999" opacity="1.0" filter="url(#b1)"/>
<rect x="157.8" y="316.7" width="11.0" height="3.0" rx="1.5" fill="#333" opacity="1.0" filter="url(#b1)"/>
<rect x="174.0" y="313.1" width="12.0" height="2.4" rx="1.2" fill="#aaa" opacity="1.0" filter="url(#b1)"/>
<rect x="173.8" y="317.4" width="12.5" height="3.2" rx="1.6" fill="#333" opacity="1.0" filter="url(#b1)"/>
<rect x="189.8" y="312.3" width="11.5" height="2.6" rx="1.3" fill="#777" opacity="1.0" filter="url(#b1)"/>
<rect x="189.6" y="316.7" width="12.0" height="3.0" rx="1.5" fill="#333" opacity="1.0" filter="url(#b1)"/>
<rect x="205.5" y="316.5" width="9.0" height="2.6" rx="1.3" fill="#a2a2a2" opacity="0.9" filter="url(#b1)"/>
<rect x="219.7" y="315.1" width="12.0" height="3.0" rx="1.5" fill="#c6c6c6" opacity="0.9" filter="url(#b2)"/>
<rect x="237.0" y="313.5" width="12.0" height="3.0" rx="1.5" fill="#c4c4c4" opacity="0.9" filter="url(#b2)"/>
<circle cx="110.6" cy="307.8" r="1" fill="#222"/>
</g>
<g clip-path="url(#c3)">
<rect x="61.0" y="333.0" width="11.5" height="17.0" rx="4" fill="#bdbdbd" opacity="0.55" filter="url(#b3)"/>
<rect x="76.8" y="333.0" width="11.5" height="17.0" rx="4" fill="#bdbdbd" opacity="0.6" filter="url(#b3)"/>
<rect x="93.0" y="333.0" width="11.5" height="17.0" rx="4" fill="#bdbdbd" opacity="0.55" filter="url(#b3)"/>
<rect x="108.5" y="333.0" width="11.5" height="17.0" rx="4" fill="#bdbdbd" opacity="0.75" filter="url(#b3)"/>
<rect x="124.8" y="333.0" width="11.5" height="17.0" rx="4" fill="#bdbdbd" opacity="0.7" filter="url(#b3)"/>
<rect x="138.8" y="333.0" width="11.5" height="17.0" rx="4" fill="#bdbdbd" opacity="0.4" filter="url(#b3)"/>
<rect x="155.2" y="333.0" width="11.5" height="17.0" rx="4" fill="#bdbdbd" opacity="0.7" filter="url(#b3)"/>
<rect x="169.2" y="333.0" width="11.5" height="17.0" rx="4" fill="#bdbdbd" opacity="0.7" filter="url(#b3)"/>
<rect x="184.6" y="333.0" width="11.5" height="17.0" rx="4" fill="#bdbdbd" opacity="0.65" filter="url(#b3)"/>
<rect x="199.1" y="333.0" width="11.5" height="17.0" rx="4" fill="#bdbdbd" opacity="0.6" filter="url(#b3)"/>
<rect x="214.8" y="333.0" width="11.5" height="17.0" rx="4" fill="#bdbdbd" opacity="0.5" filter="url(#b3)"/>
<rect x="233.2" y="333.0" width="11.5" height="17.0" rx="4" fill="#bdbdbd" opacity="0.3" filter="url(#b3)"/>
<rect x="60.5" y="339.1" width="12.5" height="11.5" rx="5" fill="#777" opacity="0.9" filter="url(#b2)"/>
<rect x="74.8" y="338.9" width="15.5" height="13.0" rx="5" fill="#777" opacity="0.9" filter="url(#b2)"/>
<rect x="92.0" y="338.9" width="13.5" height="13.0" rx="5" fill="#777" opacity="0.9" filter="url(#b2)"/>
<rect x="62.3" y="340.2" width="9.8" height="9.2" rx="4.5" fill="#000" opacity="1" filter="url(#b1)"/>
<rect x="75.8" y="339.9" width="13.5" height="11.0" rx="5" fill="#000" opacity="1" filter="url(#b1)"/>
<rect x="93.0" y="339.9" width="11.5" height="11.0" rx="5" fill="#000" opacity="1" filter="url(#b1)"/>
<rect x="108.5" y="346.6" width="11.5" height="3.8" rx="1.9" fill="#6a6a6a" opacity="1.0" filter="url(#b1)"/>
<rect x="124.3" y="346.1" width="12.5" height="3.8" rx="1.9" fill="#4c4c4c" opacity="1.0" filter="url(#b1)"/>
<rect x="140.0" y="347.0" width="9.0" height="3.0" rx="1.5" fill="#aaa" opacity="0.9" filter="url(#b1)"/>
<rect x="155.8" y="346.6" width="10.5" height="3.8" rx="1.9" fill="#444" opacity="1.0" filter="url(#b1)"/>
<rect x="169.8" y="346.6" width="10.5" height="3.8" rx="1.9" fill="#444" opacity="1.0" filter="url(#b1)"/>
<rect x="185.1" y="347.1" width="10.5" height="3.8" rx="1.9" fill="#505050" opacity="1.0" filter="url(#b1)"/>
<rect x="199.1" y="347.1" width="11.5" height="3.8" rx="1.9" fill="#505050" opacity="1.0" filter="url(#b1)"/>
<rect x="214.6" y="346.3" width="12.0" height="3.4" rx="1.7" fill="#909090" opacity="1.0" filter="url(#b1)"/>
<rect x="232.9" y="345.2" width="13.0" height="2.6" rx="1.3" fill="#c8c8c8" opacity="0.9" filter="url(#b2)" transform="rotate(-5 239.4 346.5)"/>
<circle cx="185" cy="342.4" r="1" fill="#111"/>
</g>
<g clip-path="url(#c4)">
<rect x="58.2" y="366.2" width="16.5" height="3.3" rx="1.6" fill="#000" opacity="1" filter="url(#b0)" transform="rotate(6 66.4 367.8)"/>
<rect x="75.2" y="369.1" width="16.0" height="3.3" rx="1.6" fill="#000" opacity="1" filter="url(#b0)" transform="rotate(5 83.2 370.7)"/>
<rect x="92.0" y="370.4" width="15.5" height="3.3" rx="1.6" fill="#000" opacity="1" filter="url(#b0)" transform="rotate(2 99.7 372.0)"/>
<rect x="108.2" y="370.7" width="14.5" height="3.3" rx="1.6" fill="#000" opacity="1" filter="url(#b0)" transform="rotate(1 115.4 372.3)"/>
<rect x="123.4" y="371.1" width="17.5" height="3.3" rx="1.6" fill="#000" opacity="1" filter="url(#b0)" transform="rotate(2 132.2 372.7)"/>
<rect x="141.6" y="372.4" width="15.5" height="3.3" rx="1.6" fill="#000" opacity="1" filter="url(#b0)" transform="rotate(2 149.3 374.0)"/>
<rect x="155.0" y="373.4" width="15.0" height="3.3" rx="1.6" fill="#000" opacity="1" filter="url(#b0)"/>
<rect x="170.8" y="373.9" width="15.5" height="3.3" rx="1.6" fill="#000" opacity="1" filter="url(#b0)"/>
<rect x="186.4" y="373.1" width="18.0" height="3.3" rx="1.6" fill="#000" opacity="1" filter="url(#b0)" transform="rotate(-2 195.4 374.7)"/>
<rect x="202.6" y="372.1" width="14.0" height="3.3" rx="1.6" fill="#000" opacity="1" filter="url(#b0)" transform="rotate(-5 209.6 373.7)"/>
<rect x="215.7" y="371.1" width="18.0" height="3.3" rx="1.6" fill="#000" opacity="1" filter="url(#b0)" transform="rotate(-2 224.7 372.7)"/>
<rect x="234.0" y="369.1" width="18.0" height="3.3" rx="1.6" fill="#000" opacity="1" filter="url(#b0)" transform="rotate(-12 243.0 370.7)"/>
</g>
<rect x="54.3" y="249.5" width="201.4" height="49.3" fill="none" stroke="#000" stroke-width="2.7"/>
<rect x="54.3" y="305.3" width="201.4" height="21.2" fill="none" stroke="#000" stroke-width="2.5"/>
<rect x="54.3" y="331.2" width="201.4" height="50.9" fill="none" stroke="#000" stroke-width="2.5"/>
<rect x="53" y="354.8" width="204" height="5.6" fill="#000"/>
</svg>
</body></html>
